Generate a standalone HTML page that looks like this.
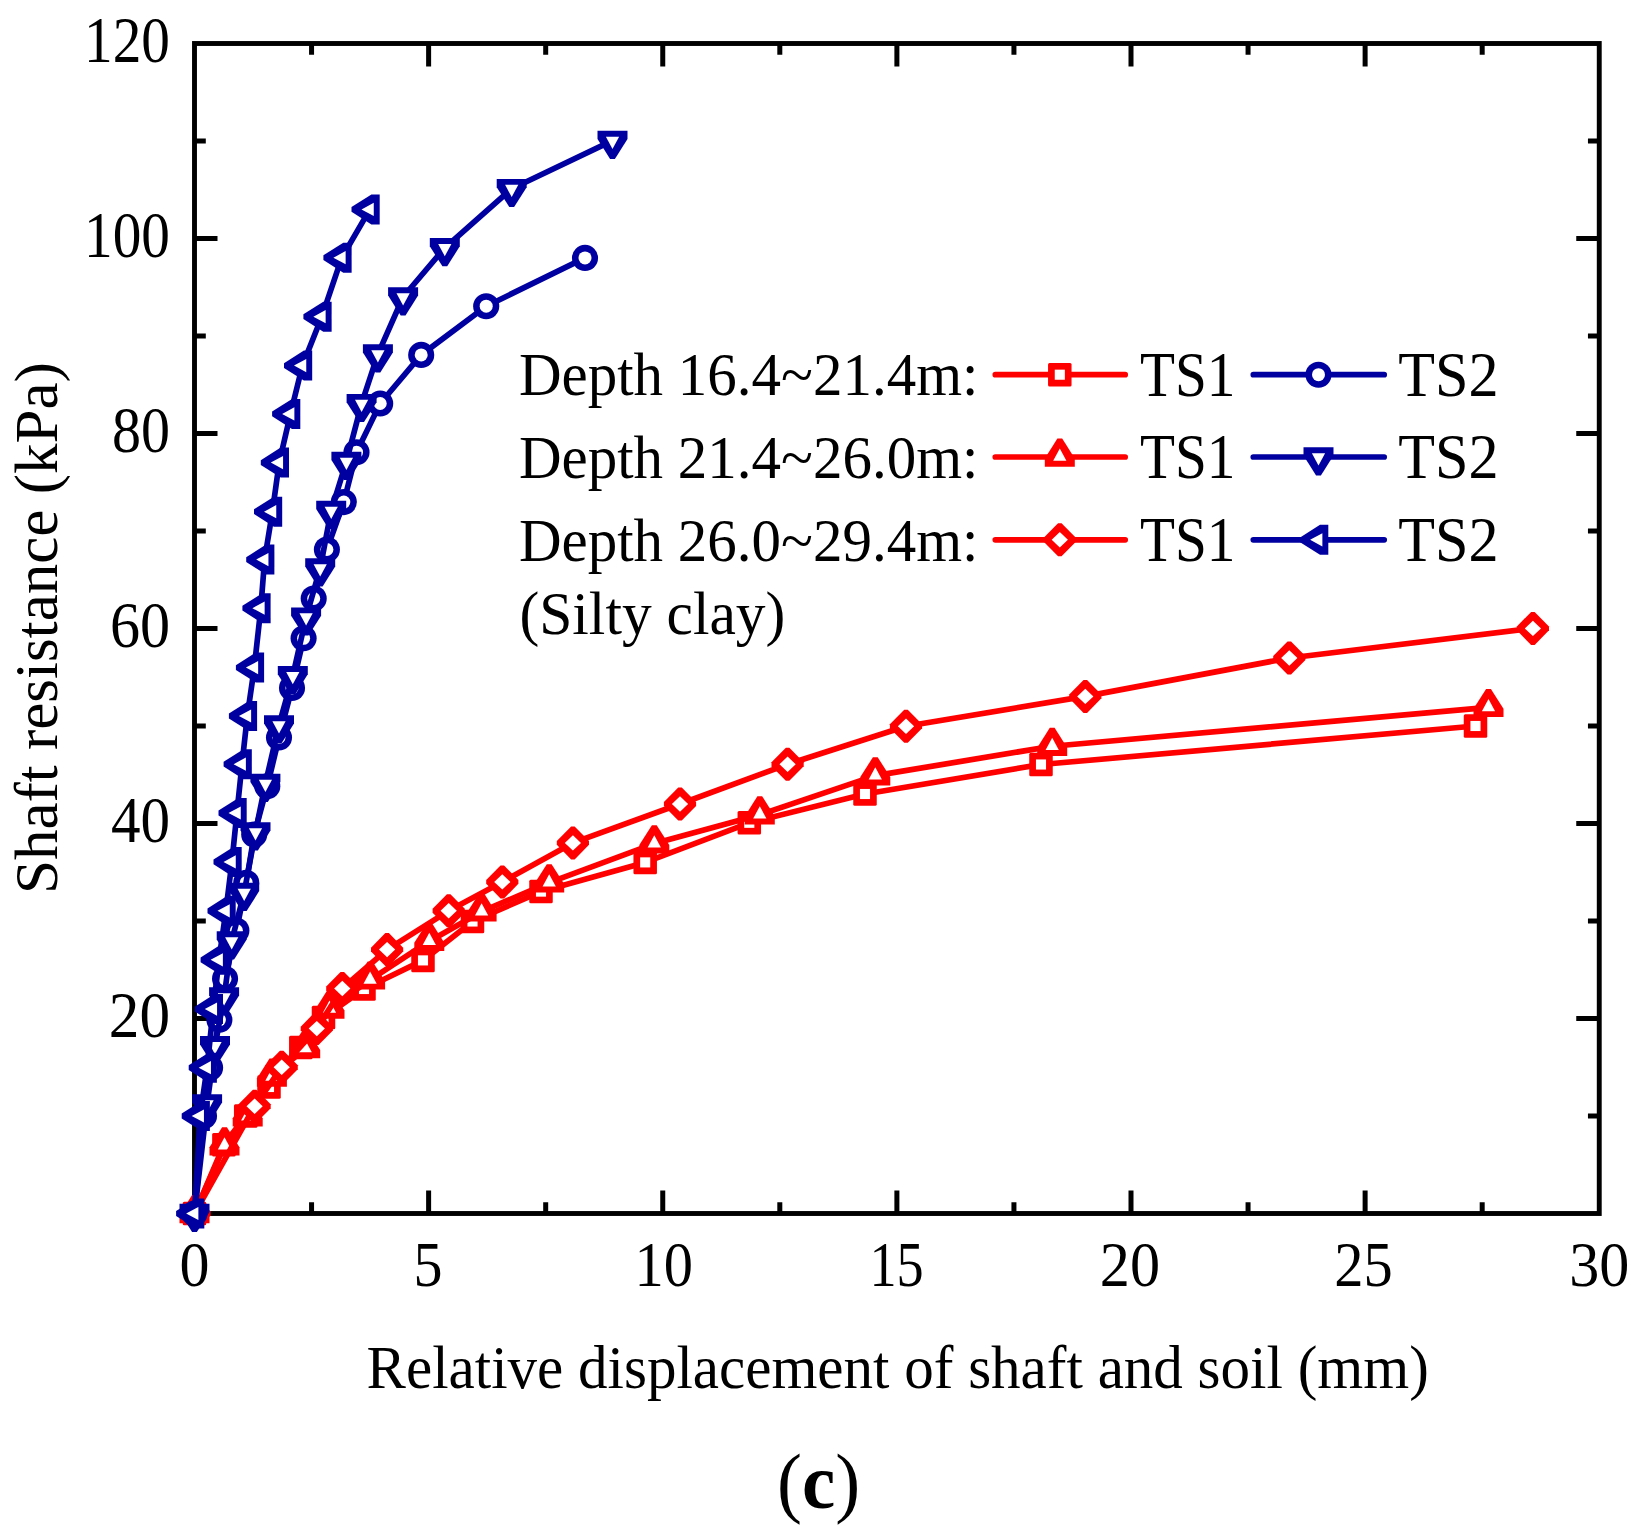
<!DOCTYPE html>
<html><head><meta charset="utf-8"><title>Shaft resistance vs relative displacement</title>
<style>
html,body{margin:0;padding:0;background:#fff;}
svg{display:block;}
text{font-family:"Liberation Serif","Times New Roman",serif;fill:#000;}
</style></head><body>
<svg width="1643" height="1536" viewBox="0 0 1643 1536">
<rect width="1643" height="1536" fill="#fff"/>
<path fill="none" stroke="#000" stroke-width="5" d="M311.56 1213.5V1202.2M311.56 43.5V54.8M428.62 1213.5V1190.5M428.62 43.5V66.5M545.69 1213.5V1202.2M545.69 43.5V54.8M662.75 1213.5V1190.5M662.75 43.5V66.5M779.81 1213.5V1202.2M779.81 43.5V54.8M896.88 1213.5V1190.5M896.88 43.5V66.5M1013.94 1213.5V1202.2M1013.94 43.5V54.8M1131 1213.5V1190.5M1131 43.5V66.5M1248.06 1213.5V1202.2M1248.06 43.5V54.8M1365.12 1213.5V1190.5M1365.12 43.5V66.5M1482.19 1213.5V1202.2M1482.19 43.5V54.8M194.5 1116H205.8M1599.25 1116H1587.95M194.5 1018.5H217.5M1599.25 1018.5H1576.25M194.5 921H205.8M1599.25 921H1587.95M194.5 823.5H217.5M1599.25 823.5H1576.25M194.5 726H205.8M1599.25 726H1587.95M194.5 628.5H217.5M1599.25 628.5H1576.25M194.5 531H205.8M1599.25 531H1587.95M194.5 433.5H217.5M1599.25 433.5H1576.25M194.5 336H205.8M1599.25 336H1587.95M194.5 238.5H217.5M1599.25 238.5H1576.25M194.5 141H205.8M1599.25 141H1587.95"/>
<rect x="194.5" y="43.5" width="1404.75" height="1170" fill="none" stroke="#000" stroke-width="4.9"/>
<text transform="translate(194.5 1286) scale(1.0000 1.0718)" font-size="60" text-anchor="middle">0</text>
<text transform="translate(428.04 1286) scale(0.9667 1.0718)" font-size="60" text-anchor="middle">5</text>
<text transform="translate(663.83 1286) scale(0.9750 1.0718)" font-size="60" text-anchor="middle">10</text>
<text transform="translate(896.58 1286) scale(0.9038 1.0718)" font-size="60" text-anchor="middle">15</text>
<text transform="translate(1129.9 1286) scale(1.0036 1.0718)" font-size="60" text-anchor="middle">20</text>
<text transform="translate(1363.53 1286) scale(0.9745 1.0718)" font-size="60" text-anchor="middle">25</text>
<text transform="translate(1599.3 1286) scale(1.0018 1.0718)" font-size="60" text-anchor="middle">30</text>
<text transform="translate(170.09 1036.56) scale(1.0209 1.0795)" font-size="60" text-anchor="end">20</text>
<text transform="translate(170.02 841.56) scale(0.9851 1.0795)" font-size="60" text-anchor="end">40</text>
<text transform="translate(170.06 646.56) scale(1.0027 1.0795)" font-size="60" text-anchor="end">60</text>
<text transform="translate(169.98 451.56) scale(0.9670 1.0795)" font-size="60" text-anchor="end">80</text>
<text transform="translate(169.96 256.56) scale(0.9548 1.0795)" font-size="60" text-anchor="end">100</text>
<text transform="translate(169.96 61.56) scale(0.9548 1.0795)" font-size="60" text-anchor="end">120</text>
<text transform="translate(897.7 1387.67) scale(1.0006 1.0286)" font-size="59" text-anchor="middle">Relative displacement of shaft and soil (mm)</text>
<text transform="translate(57.13 628.1) rotate(-90) scale(1.0000 1.0054)" font-size="61" text-anchor="middle">Shaft resistance (kPa)</text>
<text transform="translate(818.65 1508.44) scale(0.9987 1.0424)" font-size="75" text-anchor="middle">(<tspan font-weight="bold">c</tspan>)</text>
<polyline fill="none" stroke="#ff0000" stroke-width="5.7" stroke-linejoin="round" points="194.5,1213.5 223.9,1144.8 245.7,1115.9 269,1087 300.8,1047.6 323.5,1017.5 364,989 423,960.4 472.5,921.5 541,891.6 645.2,862.4 749.3,822.8 865,794 1041,764.5 1475.5,726"/>
<rect x="182.75" y="1201.75" width="23.5" height="23.5" rx="1.5" fill="#ff0000"/><rect x="189.45" y="1208.45" width="10.1" height="10.1" fill="#fff"/><rect x="212.15" y="1133.05" width="23.5" height="23.5" rx="1.5" fill="#ff0000"/><rect x="218.85" y="1139.75" width="10.1" height="10.1" fill="#fff"/><rect x="233.95" y="1104.15" width="23.5" height="23.5" rx="1.5" fill="#ff0000"/><rect x="240.65" y="1110.85" width="10.1" height="10.1" fill="#fff"/><rect x="257.25" y="1075.25" width="23.5" height="23.5" rx="1.5" fill="#ff0000"/><rect x="263.95" y="1081.95" width="10.1" height="10.1" fill="#fff"/><rect x="289.05" y="1035.85" width="23.5" height="23.5" rx="1.5" fill="#ff0000"/><rect x="295.75" y="1042.55" width="10.1" height="10.1" fill="#fff"/><rect x="311.75" y="1005.75" width="23.5" height="23.5" rx="1.5" fill="#ff0000"/><rect x="318.45" y="1012.45" width="10.1" height="10.1" fill="#fff"/><rect x="352.25" y="977.25" width="23.5" height="23.5" rx="1.5" fill="#ff0000"/><rect x="358.95" y="983.95" width="10.1" height="10.1" fill="#fff"/><rect x="411.25" y="948.65" width="23.5" height="23.5" rx="1.5" fill="#ff0000"/><rect x="417.95" y="955.35" width="10.1" height="10.1" fill="#fff"/><rect x="460.75" y="909.75" width="23.5" height="23.5" rx="1.5" fill="#ff0000"/><rect x="467.45" y="916.45" width="10.1" height="10.1" fill="#fff"/><rect x="529.25" y="879.85" width="23.5" height="23.5" rx="1.5" fill="#ff0000"/><rect x="535.95" y="886.55" width="10.1" height="10.1" fill="#fff"/><rect x="633.45" y="850.65" width="23.5" height="23.5" rx="1.5" fill="#ff0000"/><rect x="640.15" y="857.35" width="10.1" height="10.1" fill="#fff"/><rect x="737.55" y="811.05" width="23.5" height="23.5" rx="1.5" fill="#ff0000"/><rect x="744.25" y="817.75" width="10.1" height="10.1" fill="#fff"/><rect x="853.25" y="782.25" width="23.5" height="23.5" rx="1.5" fill="#ff0000"/><rect x="859.95" y="788.95" width="10.1" height="10.1" fill="#fff"/><rect x="1029.25" y="752.75" width="23.5" height="23.5" rx="1.5" fill="#ff0000"/><rect x="1035.95" y="759.45" width="10.1" height="10.1" fill="#fff"/><rect x="1463.75" y="714.25" width="23.5" height="23.5" rx="1.5" fill="#ff0000"/><rect x="1470.45" y="720.95" width="10.1" height="10.1" fill="#fff"/>
<polyline fill="none" stroke="#ff0000" stroke-width="5.7" stroke-linejoin="round" points="194.5,1213.5 224.5,1145.7 247.7,1116.7 271.9,1076.9 305.2,1048.4 329.5,1009 370.1,979.8 429.3,941.2 481.6,911.7 549.2,882.6 654.3,843.6 759.8,814.7 875.3,775.6 1052.2,746.25 1488.5,707.3"/>
<path fill="#ff0000" d="M192.1 1195.1L196.9 1195.1L209.5 1215L209.5 1223.3L179.5 1223.3L179.5 1215Z"/><path fill="#fff" d="M194.5 1205.1L201.1 1217.35L187.9 1217.35Z"/><path fill="#ff0000" d="M222.1 1127.3L226.9 1127.3L239.5 1147.2L239.5 1155.5L209.5 1155.5L209.5 1147.2Z"/><path fill="#fff" d="M224.5 1137.3L231.1 1149.55L217.9 1149.55Z"/><path fill="#ff0000" d="M245.3 1098.3L250.1 1098.3L262.7 1118.2L262.7 1126.5L232.7 1126.5L232.7 1118.2Z"/><path fill="#fff" d="M247.7 1108.3L254.3 1120.55L241.1 1120.55Z"/><path fill="#ff0000" d="M269.5 1058.5L274.3 1058.5L286.9 1078.4L286.9 1086.7L256.9 1086.7L256.9 1078.4Z"/><path fill="#fff" d="M271.9 1068.5L278.5 1080.75L265.3 1080.75Z"/><path fill="#ff0000" d="M302.8 1030L307.6 1030L320.2 1049.9L320.2 1058.2L290.2 1058.2L290.2 1049.9Z"/><path fill="#fff" d="M305.2 1040L311.8 1052.25L298.6 1052.25Z"/><path fill="#ff0000" d="M327.1 990.6L331.9 990.6L344.5 1010.5L344.5 1018.8L314.5 1018.8L314.5 1010.5Z"/><path fill="#fff" d="M329.5 1000.6L336.1 1012.85L322.9 1012.85Z"/><path fill="#ff0000" d="M367.7 961.4L372.5 961.4L385.1 981.3L385.1 989.6L355.1 989.6L355.1 981.3Z"/><path fill="#fff" d="M370.1 971.4L376.7 983.65L363.5 983.65Z"/><path fill="#ff0000" d="M426.9 922.8L431.7 922.8L444.3 942.7L444.3 951L414.3 951L414.3 942.7Z"/><path fill="#fff" d="M429.3 932.8L435.9 945.05L422.7 945.05Z"/><path fill="#ff0000" d="M479.2 893.3L484 893.3L496.6 913.2L496.6 921.5L466.6 921.5L466.6 913.2Z"/><path fill="#fff" d="M481.6 903.3L488.2 915.55L475 915.55Z"/><path fill="#ff0000" d="M546.8 864.2L551.6 864.2L564.2 884.1L564.2 892.4L534.2 892.4L534.2 884.1Z"/><path fill="#fff" d="M549.2 874.2L555.8 886.45L542.6 886.45Z"/><path fill="#ff0000" d="M651.9 825.2L656.7 825.2L669.3 845.1L669.3 853.4L639.3 853.4L639.3 845.1Z"/><path fill="#fff" d="M654.3 835.2L660.9 847.45L647.7 847.45Z"/><path fill="#ff0000" d="M757.4 796.3L762.2 796.3L774.8 816.2L774.8 824.5L744.8 824.5L744.8 816.2Z"/><path fill="#fff" d="M759.8 806.3L766.4 818.55L753.2 818.55Z"/><path fill="#ff0000" d="M872.9 757.2L877.7 757.2L890.3 777.1L890.3 785.4L860.3 785.4L860.3 777.1Z"/><path fill="#fff" d="M875.3 767.2L881.9 779.45L868.7 779.45Z"/><path fill="#ff0000" d="M1049.8 727.85L1054.6 727.85L1067.2 747.75L1067.2 756.05L1037.2 756.05L1037.2 747.75Z"/><path fill="#fff" d="M1052.2 737.85L1058.8 750.1L1045.6 750.1Z"/><path fill="#ff0000" d="M1486.1 688.9L1490.9 688.9L1503.5 708.8L1503.5 717.1L1473.5 717.1L1473.5 708.8Z"/><path fill="#fff" d="M1488.5 698.9L1495.1 711.15L1481.9 711.15Z"/>
<polyline fill="none" stroke="#ff0000" stroke-width="5.7" stroke-linejoin="round" points="194.5,1213.5 254.6,1106.2 281.7,1067.3 316.8,1028.6 342.3,988.5 387.1,949.6 448.7,910.8 502.3,881.9 572.9,842.9 680,804 787.6,764.3 906,726.2 1085.3,696.4 1289.3,658 1532.9,628.4"/>
<path fill="#ff0000" d="M192.75 1197L196.25 1197L210.6 1211.55L210.6 1215.45L196.25 1230L192.75 1230L178.4 1215.45L178.4 1211.55Z"/><path fill="#fff" d="M194.5 1205.8L202.6 1213.5L194.5 1221.2L186.4 1213.5Z"/><path fill="#ff0000" d="M252.85 1089.7L256.35 1089.7L270.7 1104.25L270.7 1108.15L256.35 1122.7L252.85 1122.7L238.5 1108.15L238.5 1104.25Z"/><path fill="#fff" d="M254.6 1098.5L262.7 1106.2L254.6 1113.9L246.5 1106.2Z"/><path fill="#ff0000" d="M279.95 1050.8L283.45 1050.8L297.8 1065.35L297.8 1069.25L283.45 1083.8L279.95 1083.8L265.6 1069.25L265.6 1065.35Z"/><path fill="#fff" d="M281.7 1059.6L289.8 1067.3L281.7 1075L273.6 1067.3Z"/><path fill="#ff0000" d="M315.05 1012.1L318.55 1012.1L332.9 1026.65L332.9 1030.55L318.55 1045.1L315.05 1045.1L300.7 1030.55L300.7 1026.65Z"/><path fill="#fff" d="M316.8 1020.9L324.9 1028.6L316.8 1036.3L308.7 1028.6Z"/><path fill="#ff0000" d="M340.55 972L344.05 972L358.4 986.55L358.4 990.45L344.05 1005L340.55 1005L326.2 990.45L326.2 986.55Z"/><path fill="#fff" d="M342.3 980.8L350.4 988.5L342.3 996.2L334.2 988.5Z"/><path fill="#ff0000" d="M385.35 933.1L388.85 933.1L403.2 947.65L403.2 951.55L388.85 966.1L385.35 966.1L371 951.55L371 947.65Z"/><path fill="#fff" d="M387.1 941.9L395.2 949.6L387.1 957.3L379 949.6Z"/><path fill="#ff0000" d="M446.95 894.3L450.45 894.3L464.8 908.85L464.8 912.75L450.45 927.3L446.95 927.3L432.6 912.75L432.6 908.85Z"/><path fill="#fff" d="M448.7 903.1L456.8 910.8L448.7 918.5L440.6 910.8Z"/><path fill="#ff0000" d="M500.55 865.4L504.05 865.4L518.4 879.95L518.4 883.85L504.05 898.4L500.55 898.4L486.2 883.85L486.2 879.95Z"/><path fill="#fff" d="M502.3 874.2L510.4 881.9L502.3 889.6L494.2 881.9Z"/><path fill="#ff0000" d="M571.15 826.4L574.65 826.4L589 840.95L589 844.85L574.65 859.4L571.15 859.4L556.8 844.85L556.8 840.95Z"/><path fill="#fff" d="M572.9 835.2L581 842.9L572.9 850.6L564.8 842.9Z"/><path fill="#ff0000" d="M678.25 787.5L681.75 787.5L696.1 802.05L696.1 805.95L681.75 820.5L678.25 820.5L663.9 805.95L663.9 802.05Z"/><path fill="#fff" d="M680 796.3L688.1 804L680 811.7L671.9 804Z"/><path fill="#ff0000" d="M785.85 747.8L789.35 747.8L803.7 762.35L803.7 766.25L789.35 780.8L785.85 780.8L771.5 766.25L771.5 762.35Z"/><path fill="#fff" d="M787.6 756.6L795.7 764.3L787.6 772L779.5 764.3Z"/><path fill="#ff0000" d="M904.25 709.7L907.75 709.7L922.1 724.25L922.1 728.15L907.75 742.7L904.25 742.7L889.9 728.15L889.9 724.25Z"/><path fill="#fff" d="M906 718.5L914.1 726.2L906 733.9L897.9 726.2Z"/><path fill="#ff0000" d="M1083.55 679.9L1087.05 679.9L1101.4 694.45L1101.4 698.35L1087.05 712.9L1083.55 712.9L1069.2 698.35L1069.2 694.45Z"/><path fill="#fff" d="M1085.3 688.7L1093.4 696.4L1085.3 704.1L1077.2 696.4Z"/><path fill="#ff0000" d="M1287.55 641.5L1291.05 641.5L1305.4 656.05L1305.4 659.95L1291.05 674.5L1287.55 674.5L1273.2 659.95L1273.2 656.05Z"/><path fill="#fff" d="M1289.3 650.3L1297.4 658L1289.3 665.7L1281.2 658Z"/><path fill="#ff0000" d="M1531.15 611.9L1534.65 611.9L1549 626.45L1549 630.35L1534.65 644.9L1531.15 644.9L1516.8 630.35L1516.8 626.45Z"/><path fill="#fff" d="M1532.9 620.7L1541 628.4L1532.9 636.1L1524.8 628.4Z"/>
<polyline fill="none" stroke="#0000a0" stroke-width="5.7" stroke-linejoin="round" points="194.5,1213.5 204,1116 210.1,1067.7 219.4,1019.8 225.05,978.8 236.4,930.6 246.25,882.7 254.2,834.5 267.3,786.3 279,737.5 292,688 303.6,638.3 313.7,598.5 326.9,549.5 343.8,502.1 356.5,452.2 380.2,403.5 421.2,354.9 486.2,306.2 585,257.9"/>
<circle cx="194.5" cy="1213.5" r="13.05" fill="#0000a0"/><circle cx="194.5" cy="1213.5" r="6.5" fill="#fff"/><circle cx="204" cy="1116" r="13.05" fill="#0000a0"/><circle cx="204" cy="1116" r="6.5" fill="#fff"/><circle cx="210.1" cy="1067.7" r="13.05" fill="#0000a0"/><circle cx="210.1" cy="1067.7" r="6.5" fill="#fff"/><circle cx="219.4" cy="1019.8" r="13.05" fill="#0000a0"/><circle cx="219.4" cy="1019.8" r="6.5" fill="#fff"/><circle cx="225.05" cy="978.8" r="13.05" fill="#0000a0"/><circle cx="225.05" cy="978.8" r="6.5" fill="#fff"/><circle cx="236.4" cy="930.6" r="13.05" fill="#0000a0"/><circle cx="236.4" cy="930.6" r="6.5" fill="#fff"/><circle cx="246.25" cy="882.7" r="13.05" fill="#0000a0"/><circle cx="246.25" cy="882.7" r="6.5" fill="#fff"/><circle cx="254.2" cy="834.5" r="13.05" fill="#0000a0"/><circle cx="254.2" cy="834.5" r="6.5" fill="#fff"/><circle cx="267.3" cy="786.3" r="13.05" fill="#0000a0"/><circle cx="267.3" cy="786.3" r="6.5" fill="#fff"/><circle cx="279" cy="737.5" r="13.05" fill="#0000a0"/><circle cx="279" cy="737.5" r="6.5" fill="#fff"/><circle cx="292" cy="688" r="13.05" fill="#0000a0"/><circle cx="292" cy="688" r="6.5" fill="#fff"/><circle cx="303.6" cy="638.3" r="13.05" fill="#0000a0"/><circle cx="303.6" cy="638.3" r="6.5" fill="#fff"/><circle cx="313.7" cy="598.5" r="13.05" fill="#0000a0"/><circle cx="313.7" cy="598.5" r="6.5" fill="#fff"/><circle cx="326.9" cy="549.5" r="13.05" fill="#0000a0"/><circle cx="326.9" cy="549.5" r="6.5" fill="#fff"/><circle cx="343.8" cy="502.1" r="13.05" fill="#0000a0"/><circle cx="343.8" cy="502.1" r="6.5" fill="#fff"/><circle cx="356.5" cy="452.2" r="13.05" fill="#0000a0"/><circle cx="356.5" cy="452.2" r="6.5" fill="#fff"/><circle cx="380.2" cy="403.5" r="13.05" fill="#0000a0"/><circle cx="380.2" cy="403.5" r="6.5" fill="#fff"/><circle cx="421.2" cy="354.9" r="13.05" fill="#0000a0"/><circle cx="421.2" cy="354.9" r="6.5" fill="#fff"/><circle cx="486.2" cy="306.2" r="13.05" fill="#0000a0"/><circle cx="486.2" cy="306.2" r="6.5" fill="#fff"/><circle cx="585" cy="257.9" r="13.05" fill="#0000a0"/><circle cx="585" cy="257.9" r="6.5" fill="#fff"/>
<polyline fill="none" stroke="#0000a0" stroke-width="5.7" stroke-linejoin="round" points="194.5,1213.5 207.1,1104 215,1045.9 224.1,997.1 231.7,941 244.2,892.6 255.5,832 265.4,783.6 279,725 292.8,675.8 306.1,617.2 320.2,568.1 331.2,510.5 346.4,461.5 361.6,403.7 377.9,354.1 403.1,297 444.8,247.8 511.7,188.7 612.5,140.6"/>
<path fill="#0000a0" d="M192.1 1231.9L196.9 1231.9L209.5 1212L209.5 1203.7L179.5 1203.7L179.5 1212Z"/><path fill="#fff" d="M194.5 1221.9L201.1 1209.65L187.9 1209.65Z"/><path fill="#0000a0" d="M204.7 1122.4L209.5 1122.4L222.1 1102.5L222.1 1094.2L192.1 1094.2L192.1 1102.5Z"/><path fill="#fff" d="M207.1 1112.4L213.7 1100.15L200.5 1100.15Z"/><path fill="#0000a0" d="M212.6 1064.3L217.4 1064.3L230 1044.4L230 1036.1L200 1036.1L200 1044.4Z"/><path fill="#fff" d="M215 1054.3L221.6 1042.05L208.4 1042.05Z"/><path fill="#0000a0" d="M221.7 1015.5L226.5 1015.5L239.1 995.6L239.1 987.3L209.1 987.3L209.1 995.6Z"/><path fill="#fff" d="M224.1 1005.5L230.7 993.25L217.5 993.25Z"/><path fill="#0000a0" d="M229.3 959.4L234.1 959.4L246.7 939.5L246.7 931.2L216.7 931.2L216.7 939.5Z"/><path fill="#fff" d="M231.7 949.4L238.3 937.15L225.1 937.15Z"/><path fill="#0000a0" d="M241.8 911L246.6 911L259.2 891.1L259.2 882.8L229.2 882.8L229.2 891.1Z"/><path fill="#fff" d="M244.2 901L250.8 888.75L237.6 888.75Z"/><path fill="#0000a0" d="M253.1 850.4L257.9 850.4L270.5 830.5L270.5 822.2L240.5 822.2L240.5 830.5Z"/><path fill="#fff" d="M255.5 840.4L262.1 828.15L248.9 828.15Z"/><path fill="#0000a0" d="M263 802L267.8 802L280.4 782.1L280.4 773.8L250.4 773.8L250.4 782.1Z"/><path fill="#fff" d="M265.4 792L272 779.75L258.8 779.75Z"/><path fill="#0000a0" d="M276.6 743.4L281.4 743.4L294 723.5L294 715.2L264 715.2L264 723.5Z"/><path fill="#fff" d="M279 733.4L285.6 721.15L272.4 721.15Z"/><path fill="#0000a0" d="M290.4 694.2L295.2 694.2L307.8 674.3L307.8 666L277.8 666L277.8 674.3Z"/><path fill="#fff" d="M292.8 684.2L299.4 671.95L286.2 671.95Z"/><path fill="#0000a0" d="M303.7 635.6L308.5 635.6L321.1 615.7L321.1 607.4L291.1 607.4L291.1 615.7Z"/><path fill="#fff" d="M306.1 625.6L312.7 613.35L299.5 613.35Z"/><path fill="#0000a0" d="M317.8 586.5L322.6 586.5L335.2 566.6L335.2 558.3L305.2 558.3L305.2 566.6Z"/><path fill="#fff" d="M320.2 576.5L326.8 564.25L313.6 564.25Z"/><path fill="#0000a0" d="M328.8 528.9L333.6 528.9L346.2 509L346.2 500.7L316.2 500.7L316.2 509Z"/><path fill="#fff" d="M331.2 518.9L337.8 506.65L324.6 506.65Z"/><path fill="#0000a0" d="M344 479.9L348.8 479.9L361.4 460L361.4 451.7L331.4 451.7L331.4 460Z"/><path fill="#fff" d="M346.4 469.9L353 457.65L339.8 457.65Z"/><path fill="#0000a0" d="M359.2 422.1L364 422.1L376.6 402.2L376.6 393.9L346.6 393.9L346.6 402.2Z"/><path fill="#fff" d="M361.6 412.1L368.2 399.85L355 399.85Z"/><path fill="#0000a0" d="M375.5 372.5L380.3 372.5L392.9 352.6L392.9 344.3L362.9 344.3L362.9 352.6Z"/><path fill="#fff" d="M377.9 362.5L384.5 350.25L371.3 350.25Z"/><path fill="#0000a0" d="M400.7 315.4L405.5 315.4L418.1 295.5L418.1 287.2L388.1 287.2L388.1 295.5Z"/><path fill="#fff" d="M403.1 305.4L409.7 293.15L396.5 293.15Z"/><path fill="#0000a0" d="M442.4 266.2L447.2 266.2L459.8 246.3L459.8 238L429.8 238L429.8 246.3Z"/><path fill="#fff" d="M444.8 256.2L451.4 243.95L438.2 243.95Z"/><path fill="#0000a0" d="M509.3 207.1L514.1 207.1L526.7 187.2L526.7 178.9L496.7 178.9L496.7 187.2Z"/><path fill="#fff" d="M511.7 197.1L518.3 184.85L505.1 184.85Z"/><path fill="#0000a0" d="M610.1 159L614.9 159L627.5 139.1L627.5 130.8L597.5 130.8L597.5 139.1Z"/><path fill="#fff" d="M612.5 149L619.1 136.75L605.9 136.75Z"/>
<polyline fill="none" stroke="#0000a0" stroke-width="5.7" stroke-linejoin="round" points="194.5,1213.5 200.1,1116 207.1,1067.7 213.2,1009.1 219,959.8 225.9,910.8 231.9,861.9 236.9,813 242,764.2 247.3,716 254.3,667.6 260.8,608.2 264.6,559.6 272.4,511.7 279.2,462.6 290.5,413.9 302.4,365.6 321.8,316.7 341.8,257.7 369.9,209.4"/>
<path fill="#0000a0" d="M176.1 1211.1L176.1 1215.9L196 1228.5L204.3 1228.5L204.3 1198.5L196 1198.5Z"/><path fill="#fff" d="M186.1 1213.5L198.35 1220.1L198.35 1206.9Z"/><path fill="#0000a0" d="M181.7 1113.6L181.7 1118.4L201.6 1131L209.9 1131L209.9 1101L201.6 1101Z"/><path fill="#fff" d="M191.7 1116L203.95 1122.6L203.95 1109.4Z"/><path fill="#0000a0" d="M188.7 1065.3L188.7 1070.1L208.6 1082.7L216.9 1082.7L216.9 1052.7L208.6 1052.7Z"/><path fill="#fff" d="M198.7 1067.7L210.95 1074.3L210.95 1061.1Z"/><path fill="#0000a0" d="M194.8 1006.7L194.8 1011.5L214.7 1024.1L223 1024.1L223 994.1L214.7 994.1Z"/><path fill="#fff" d="M204.8 1009.1L217.05 1015.7L217.05 1002.5Z"/><path fill="#0000a0" d="M200.6 957.4L200.6 962.2L220.5 974.8L228.8 974.8L228.8 944.8L220.5 944.8Z"/><path fill="#fff" d="M210.6 959.8L222.85 966.4L222.85 953.2Z"/><path fill="#0000a0" d="M207.5 908.4L207.5 913.2L227.4 925.8L235.7 925.8L235.7 895.8L227.4 895.8Z"/><path fill="#fff" d="M217.5 910.8L229.75 917.4L229.75 904.2Z"/><path fill="#0000a0" d="M213.5 859.5L213.5 864.3L233.4 876.9L241.7 876.9L241.7 846.9L233.4 846.9Z"/><path fill="#fff" d="M223.5 861.9L235.75 868.5L235.75 855.3Z"/><path fill="#0000a0" d="M218.5 810.6L218.5 815.4L238.4 828L246.7 828L246.7 798L238.4 798Z"/><path fill="#fff" d="M228.5 813L240.75 819.6L240.75 806.4Z"/><path fill="#0000a0" d="M223.6 761.8L223.6 766.6L243.5 779.2L251.8 779.2L251.8 749.2L243.5 749.2Z"/><path fill="#fff" d="M233.6 764.2L245.85 770.8L245.85 757.6Z"/><path fill="#0000a0" d="M228.9 713.6L228.9 718.4L248.8 731L257.1 731L257.1 701L248.8 701Z"/><path fill="#fff" d="M238.9 716L251.15 722.6L251.15 709.4Z"/><path fill="#0000a0" d="M235.9 665.2L235.9 670L255.8 682.6L264.1 682.6L264.1 652.6L255.8 652.6Z"/><path fill="#fff" d="M245.9 667.6L258.15 674.2L258.15 661Z"/><path fill="#0000a0" d="M242.4 605.8L242.4 610.6L262.3 623.2L270.6 623.2L270.6 593.2L262.3 593.2Z"/><path fill="#fff" d="M252.4 608.2L264.65 614.8L264.65 601.6Z"/><path fill="#0000a0" d="M246.2 557.2L246.2 562L266.1 574.6L274.4 574.6L274.4 544.6L266.1 544.6Z"/><path fill="#fff" d="M256.2 559.6L268.45 566.2L268.45 553Z"/><path fill="#0000a0" d="M254 509.3L254 514.1L273.9 526.7L282.2 526.7L282.2 496.7L273.9 496.7Z"/><path fill="#fff" d="M264 511.7L276.25 518.3L276.25 505.1Z"/><path fill="#0000a0" d="M260.8 460.2L260.8 465L280.7 477.6L289 477.6L289 447.6L280.7 447.6Z"/><path fill="#fff" d="M270.8 462.6L283.05 469.2L283.05 456Z"/><path fill="#0000a0" d="M272.1 411.5L272.1 416.3L292 428.9L300.3 428.9L300.3 398.9L292 398.9Z"/><path fill="#fff" d="M282.1 413.9L294.35 420.5L294.35 407.3Z"/><path fill="#0000a0" d="M284 363.2L284 368L303.9 380.6L312.2 380.6L312.2 350.6L303.9 350.6Z"/><path fill="#fff" d="M294 365.6L306.25 372.2L306.25 359Z"/><path fill="#0000a0" d="M303.4 314.3L303.4 319.1L323.3 331.7L331.6 331.7L331.6 301.7L323.3 301.7Z"/><path fill="#fff" d="M313.4 316.7L325.65 323.3L325.65 310.1Z"/><path fill="#0000a0" d="M323.4 255.3L323.4 260.1L343.3 272.7L351.6 272.7L351.6 242.7L343.3 242.7Z"/><path fill="#fff" d="M333.4 257.7L345.65 264.3L345.65 251.1Z"/><path fill="#0000a0" d="M351.5 207L351.5 211.8L371.4 224.4L379.7 224.4L379.7 194.4L371.4 194.4Z"/><path fill="#fff" d="M361.5 209.4L373.75 216L373.75 202.8Z"/>
<text transform="translate(518.93 395.48) scale(0.9833 1.0333)" font-size="60">Depth 16.4~21.4m:</text>
<path stroke="#ff0000" stroke-width="5.7" stroke-linecap="round" d="M995.3 374.7H1125.2"/>
<rect x="1048.05" y="362.95" width="23.5" height="23.5" rx="1.5" fill="#ff0000"/><rect x="1054.75" y="369.65" width="10.1" height="10.1" fill="#fff"/>
<text transform="translate(1139.97 395.67) scale(0.9547 1.0667)" font-size="60">TS1</text>
<path stroke="#0000a0" stroke-width="5.7" stroke-linecap="round" d="M1253.3 374.7H1384.2"/>
<circle cx="1318.5" cy="374.7" r="13.05" fill="#0000a0"/><circle cx="1318.5" cy="374.7" r="6.5" fill="#fff"/>
<text transform="translate(1398.3 395.57) scale(1.0021 1.0564)" font-size="60">TS2</text>
<text transform="translate(518.93 478.09) scale(0.9833 1.0333)" font-size="60">Depth 21.4~26.0m:</text>
<path stroke="#ff0000" stroke-width="5.7" stroke-linecap="round" d="M995.3 457H1125.2"/>
<path fill="#ff0000" d="M1057.4 438.6L1062.2 438.6L1074.8 458.5L1074.8 466.8L1044.8 466.8L1044.8 458.5Z"/><path fill="#fff" d="M1059.8 448.6L1066.4 460.85L1053.2 460.85Z"/>
<text transform="translate(1139.97 478.29) scale(0.9547 1.0667)" font-size="60">TS1</text>
<path stroke="#0000a0" stroke-width="5.7" stroke-linecap="round" d="M1253.3 457H1384.2"/>
<path fill="#0000a0" d="M1316.1 475.4L1320.9 475.4L1333.5 455.5L1333.5 447.2L1303.5 447.2L1303.5 455.5Z"/><path fill="#fff" d="M1318.5 465.4L1325.1 453.15L1311.9 453.15Z"/>
<text transform="translate(1398.3 478.19) scale(1.0021 1.0564)" font-size="60">TS2</text>
<text transform="translate(518.93 560.69) scale(0.9833 1.0333)" font-size="60">Depth 26.0~29.4m:</text>
<path stroke="#ff0000" stroke-width="5.7" stroke-linecap="round" d="M995.3 539.8H1125.2"/>
<path fill="#ff0000" d="M1058.05 523.3L1061.55 523.3L1075.9 537.85L1075.9 541.75L1061.55 556.3L1058.05 556.3L1043.7 541.75L1043.7 537.85Z"/><path fill="#fff" d="M1059.8 532.1L1067.9 539.8L1059.8 547.5L1051.7 539.8Z"/>
<text transform="translate(1139.97 560.87) scale(0.9547 1.0667)" font-size="60">TS1</text>
<path stroke="#0000a0" stroke-width="5.7" stroke-linecap="round" d="M1253.3 539.8H1384.2"/>
<path fill="#0000a0" d="M1300.1 537.4L1300.1 542.2L1320 554.8L1328.3 554.8L1328.3 524.8L1320 524.8Z"/><path fill="#fff" d="M1310.1 539.8L1322.35 546.4L1322.35 533.2Z"/>
<text transform="translate(1398.3 560.78) scale(1.0021 1.0564)" font-size="60">TS2</text>
<text transform="translate(519.43 634.14) scale(0.9916 1.0204)" font-size="60">(Silty clay)</text>
</svg>
</body></html>
